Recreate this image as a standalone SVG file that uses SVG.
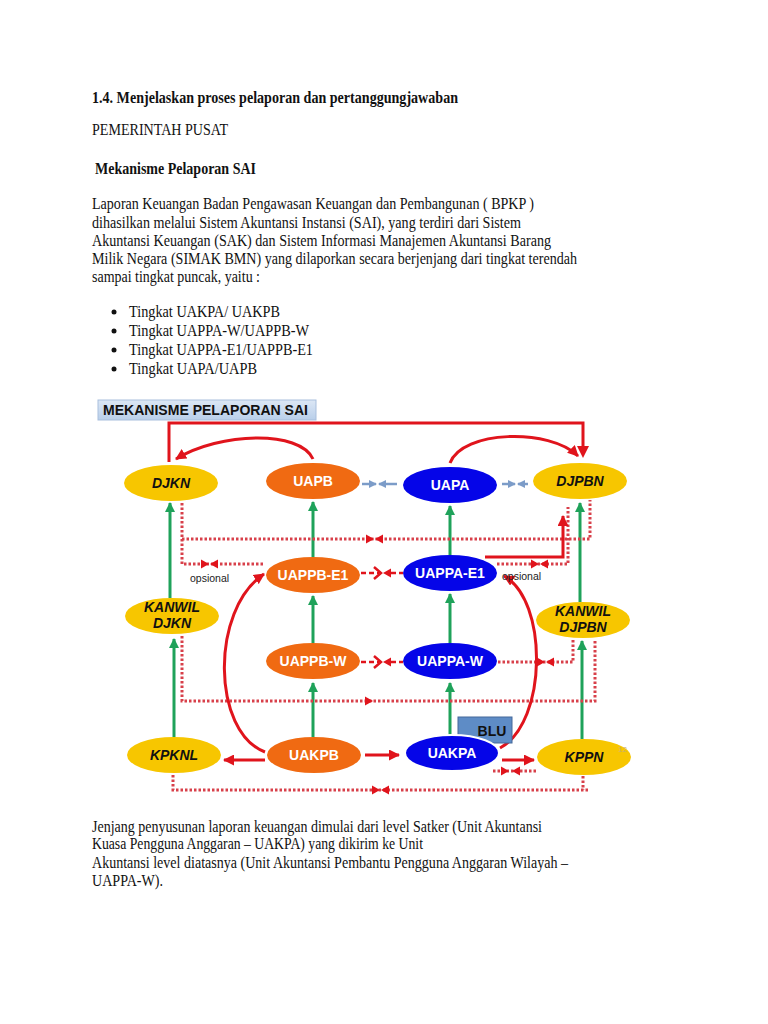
<svg xmlns="http://www.w3.org/2000/svg" xmlns:xlink="http://www.w3.org/1999/xlink" width="768" height="1024" viewBox="0 0 768 1024">
<defs>
<style>
.body{font-family:"Liberation Serif","Times New Roman",serif;font-size:16.5px;fill:#111}
.bold{font-weight:bold}
.lbl{font-family:"Liberation Sans",Arial,sans-serif;font-size:14px;font-weight:bold;text-anchor:middle}
.w{fill:#fff}
.k{fill:#111;font-style:italic}
.yel{fill:#F7C600}
.org{fill:#F06A12}
.blu{fill:#0505E8}
.grn{stroke:#1FA25A;stroke-width:3;fill:none;marker-end:url(#gH)}
.red{stroke:#E0141C;stroke-width:3;fill:none;marker-end:url(#rH)}
.redL{stroke:#E0141C;stroke-width:3;fill:none}
.dot{stroke:#D8404A;stroke-width:3;fill:none;stroke-dasharray:2.5 2}
.dash{stroke:#E0141C;stroke-width:2.5;fill:none;stroke-dasharray:5 3}
.gb{stroke:#7C9CC8;stroke-width:2.5;fill:none;marker-end:url(#bH)}
.tri{fill:#E0141C}
.ops{font-family:"Liberation Sans",Arial,sans-serif;font-size:10.5px;fill:#222}
</style>
<marker id="gH" markerUnits="userSpaceOnUse" markerWidth="10" markerHeight="10" refX="9" refY="5" orient="auto"><path d="M0,0 L10,5 L0,10 z" fill="#1FA25A"/></marker>
<marker id="rH" markerUnits="userSpaceOnUse" markerWidth="11" markerHeight="11" refX="10" refY="5.5" orient="auto"><path d="M0,0 L11,5.5 L0,11 z" fill="#E0141C"/></marker>
<marker id="bH" markerUnits="userSpaceOnUse" markerWidth="8" markerHeight="8" refX="7" refY="4" orient="auto"><path d="M0,0 L8,4 L0,8 z" fill="#7C9CC8"/></marker>
<linearGradient id="ban" x1="0" y1="0" x2="0" y2="1"><stop offset="0" stop-color="#DCE7F5"/><stop offset="1" stop-color="#B9CFEA"/></linearGradient>
<path id="tR" d="M-8,-4.5 L0,0 L-8,4.5 z"/>
<path id="tL" d="M8,-4.5 L0,0 L8,4.5 z"/>
</defs>
<rect width="768" height="1024" fill="#fff"/>

<!-- Text above -->
<g id="header-text">
<text class="body bold" x="92" y="103" font-size="17" textLength="366" lengthAdjust="spacingAndGlyphs">1.4. Menjelaskan proses pelaporan dan pertanggungjawaban</text>
<text class="body" x="92" y="135" textLength="136" lengthAdjust="spacingAndGlyphs">PEMERINTAH PUSAT</text>
<text class="body bold" x="95" y="174" textLength="161" lengthAdjust="spacingAndGlyphs">Mekanisme Pelaporan SAI</text>
<text class="body" x="92" y="209" textLength="442" lengthAdjust="spacingAndGlyphs">Laporan Keuangan Badan Pengawasan Keuangan dan Pembangunan ( BPKP )</text>
<text class="body" x="92" y="228" textLength="429" lengthAdjust="spacingAndGlyphs">dihasilkan melalui Sistem Akuntansi Instansi (SAI), yang terdiri dari Sistem</text>
<text class="body" x="92" y="246" textLength="459" lengthAdjust="spacingAndGlyphs">Akuntansi Keuangan (SAK) dan Sistem Informasi Manajemen Akuntansi Barang</text>
<text class="body" x="92" y="264" textLength="485" lengthAdjust="spacingAndGlyphs">Milik Negara (SIMAK BMN) yang dilaporkan secara berjenjang dari tingkat terendah</text>
<text class="body" x="92" y="282" textLength="168" lengthAdjust="spacingAndGlyphs">sampai tingkat puncak, yaitu :</text>
<g fill="#111"><circle cx="114" cy="312" r="2.5"/><circle cx="114" cy="331" r="2.5"/><circle cx="114" cy="350" r="2.5"/><circle cx="114" cy="369" r="2.5"/></g>
<text class="body" x="129" y="317" textLength="151" lengthAdjust="spacingAndGlyphs">Tingkat UAKPA/ UAKPB</text>
<text class="body" x="129" y="336" textLength="180" lengthAdjust="spacingAndGlyphs">Tingkat UAPPA-W/UAPPB-W</text>
<text class="body" x="129" y="355" textLength="184" lengthAdjust="spacingAndGlyphs">Tingkat UAPPA-E1/UAPPB-E1</text>
<text class="body" x="129" y="374" textLength="128" lengthAdjust="spacingAndGlyphs">Tingkat UAPA/UAPB</text>
</g>

<!-- Banner -->
<g id="banner">
<rect x="98" y="400" width="218" height="20" fill="url(#ban)" stroke="#A9BFDD" stroke-width="1"/>
<text x="103" y="415" font-family="Liberation Sans,Arial,sans-serif" font-size="14.5" font-weight="bold" fill="#111" textLength="205" lengthAdjust="spacingAndGlyphs">MEKANISME PELAPORAN SAI</text>
</g>

<!-- Connectors -->
<g id="connectors">
<path class="redL" d="M169,462 V423 H583 V447"/>
<path d="M577,446 L583,458 L589,446 z" fill="#E0141C"/>
<path class="red" d="M313,459 C300,430 220,432 176,459"/>
<path class="red" d="M450,463 C462,430 550,428 578,456"/>
<path class="gb" d="M362,484 H376"/>
<path class="gb" d="M397,484 H379"/>
<path class="gb" d="M502,484 H515"/>
<path class="gb" d="M528,484 H518"/>
<path class="grn" d="M170,598 V503"/>
<path class="grn" d="M313,557 V502"/>
<path class="grn" d="M450,555 V506"/>
<path class="grn" d="M580,602 V503"/>
<path class="grn" d="M174,737 V639"/>
<path class="grn" d="M313,643 V596"/>
<path class="grn" d="M313,737 V683"/>
<path class="grn" d="M450,643 V594"/>
<path class="grn" d="M450,735 V683"/>
<path class="grn" d="M582,739 V641"/>
<path class="dot" d="M182,503 V564 H265"/>
<path class="dot" d="M182,539 H590 V500"/>
<path class="dot" d="M497,564 H568 V507"/>
<path class="dot" d="M182,636 V701 H595 V639"/>
<path class="dot" d="M498,662 H573 V640"/>
<path class="dot" d="M173,775 V790 H590"/>
<path class="dot" d="M583,776 V790"/>
<path class="dot" d="M493,771 H538"/>
<use xlink:href="#tR" href="#tR" x="209" y="564" class="tri"/>
<use xlink:href="#tL" href="#tL" x="210" y="564" class="tri"/>
<use xlink:href="#tR" href="#tR" x="374" y="539" class="tri"/>
<use xlink:href="#tL" href="#tL" x="375" y="539" class="tri"/>
<use xlink:href="#tR" href="#tR" x="539" y="564" class="tri"/>
<use xlink:href="#tL" href="#tL" x="540" y="564" class="tri"/>
<use xlink:href="#tR" href="#tR" x="373" y="701" class="tri"/>
<use xlink:href="#tR" href="#tR" x="545" y="662" class="tri"/>
<use xlink:href="#tL" href="#tL" x="546" y="662" class="tri"/>
<use xlink:href="#tR" href="#tR" x="380" y="790" class="tri"/>
<use xlink:href="#tL" href="#tL" x="381" y="790" class="tri"/>
<use xlink:href="#tR" href="#tR" x="509" y="771" class="tri"/>
<use xlink:href="#tL" href="#tL" x="512" y="771" class="tri"/>
<path class="dash" d="M361,573 H379"/>
<path d="M374,567 L381,573 L374,579" stroke="#E0141C" stroke-width="2.5" fill="none"/>
<use xlink:href="#tL" href="#tL" x="383" y="573" class="tri"/>
<path class="dash" d="M391,573 H403"/>
<path class="dash" d="M361,662 H379"/>
<path d="M374,656 L381,662 L374,668" stroke="#E0141C" stroke-width="2.5" fill="none"/>
<use xlink:href="#tL" href="#tL" x="383" y="662" class="tri"/>
<path class="dash" d="M391,662 H403"/>
<path class="red" d="M485,557 H563 V516"/>
<path class="red" d="M265,752 C212,732 210,610 264,574"/>
<path class="red" d="M500,748 C548,722 548,600 504,576"/>
<path class="red" d="M265,760 H224"/>
<path class="red" d="M365,755 H399"/>
<path class="red" d="M502,760 H534"/>
</g>

<text class="ops" x="190" y="582">opsional</text>
<text class="ops" x="502" y="580">opsional</text>

<!-- Nodes -->
<g id="n-djkn"><ellipse cx="171" cy="483" rx="47" ry="18" class="yel"/><text class="lbl k" x="171" y="488">DJKN</text></g>
<g id="n-uapb"><ellipse cx="313" cy="481" rx="47" ry="18" class="org"/><text class="lbl w" x="313" y="486">UAPB</text></g>
<g id="n-uapa"><ellipse cx="450" cy="485" rx="47" ry="18" class="blu"/><text class="lbl w" x="450" y="490">UAPA</text></g>
<g id="n-djpbn"><ellipse cx="580" cy="481" rx="47" ry="18" class="yel"/><text class="lbl k" x="580" y="486">DJPBN</text></g>
<g id="n-uappb-e1"><ellipse cx="313" cy="575" rx="47" ry="18" class="org"/><text class="lbl w" x="313" y="580">UAPPB-E1</text></g>
<g id="n-uappa-e1"><ellipse cx="450" cy="573" rx="47" ry="18" class="blu"/><text class="lbl w" x="450" y="578">UAPPA-E1</text></g>
<g id="n-kanwil-djkn"><ellipse cx="172" cy="616" rx="47" ry="18" class="yel"/><text class="lbl k" x="172" y="612" font-size="13">KANWIL</text><text class="lbl k" x="172" y="628" font-size="13">DJKN</text></g>
<g id="n-kanwil-djpbn"><ellipse cx="583" cy="620" rx="47" ry="18" class="yel"/><text class="lbl k" x="583" y="616" font-size="13">KANWIL</text><text class="lbl k" x="583" y="632" font-size="13">DJPBN</text></g>
<g id="n-uappb-w"><ellipse cx="313" cy="661" rx="47" ry="18" class="org"/><text class="lbl w" x="313" y="666">UAPPB-W</text></g>
<g id="n-uappa-w"><ellipse cx="450" cy="661" rx="47" ry="18" class="blu"/><text class="lbl w" x="450" y="666">UAPPA-W</text></g>
<g id="n-blu"><rect x="458" y="717" width="54" height="26" fill="#5E8CC6" stroke="#45699A" stroke-width="1"/><text class="lbl" x="492" y="736" fill="#111">BLU</text></g>
<g id="n-kpknl"><ellipse cx="174" cy="755" rx="47" ry="18" class="yel"/><text class="lbl k" x="174" y="760">KPKNL</text></g>
<g id="n-uakpb"><ellipse cx="314" cy="755" rx="47" ry="18" class="org"/><text class="lbl w" x="314" y="760">UAKPB</text></g>
<g id="n-uakpa"><ellipse cx="452" cy="753" rx="47" ry="18" class="blu" stroke="#fff" stroke-width="2"/><text class="lbl w" x="452" y="758">UAKPA</text></g>
<g id="n-kppn"><ellipse cx="584" cy="757" rx="47" ry="18" class="yel"/><text class="lbl k" x="584" y="762">KPPN</text></g>
<text x="618" y="752" font-family="Liberation Sans,Arial,sans-serif" font-size="8" fill="#C8B070">12</text>

<!-- Text below -->
<g id="footer-text">
<text class="body" x="92" y="832" textLength="450" lengthAdjust="spacingAndGlyphs">Jenjang penyusunan laporan keuangan dimulai dari level Satker (Unit Akuntansi</text>
<text class="body" x="92" y="849" textLength="331" lengthAdjust="spacingAndGlyphs">Kuasa Pengguna Anggaran – UAKPA) yang dikirim ke Unit</text>
<text class="body" x="92" y="868" textLength="476" lengthAdjust="spacingAndGlyphs">Akuntansi level diatasnya (Unit Akuntansi Pembantu Pengguna Anggaran Wilayah –</text>
<text class="body" x="92" y="886" textLength="71" lengthAdjust="spacingAndGlyphs">UAPPA-W).</text>
</g>
</svg>
